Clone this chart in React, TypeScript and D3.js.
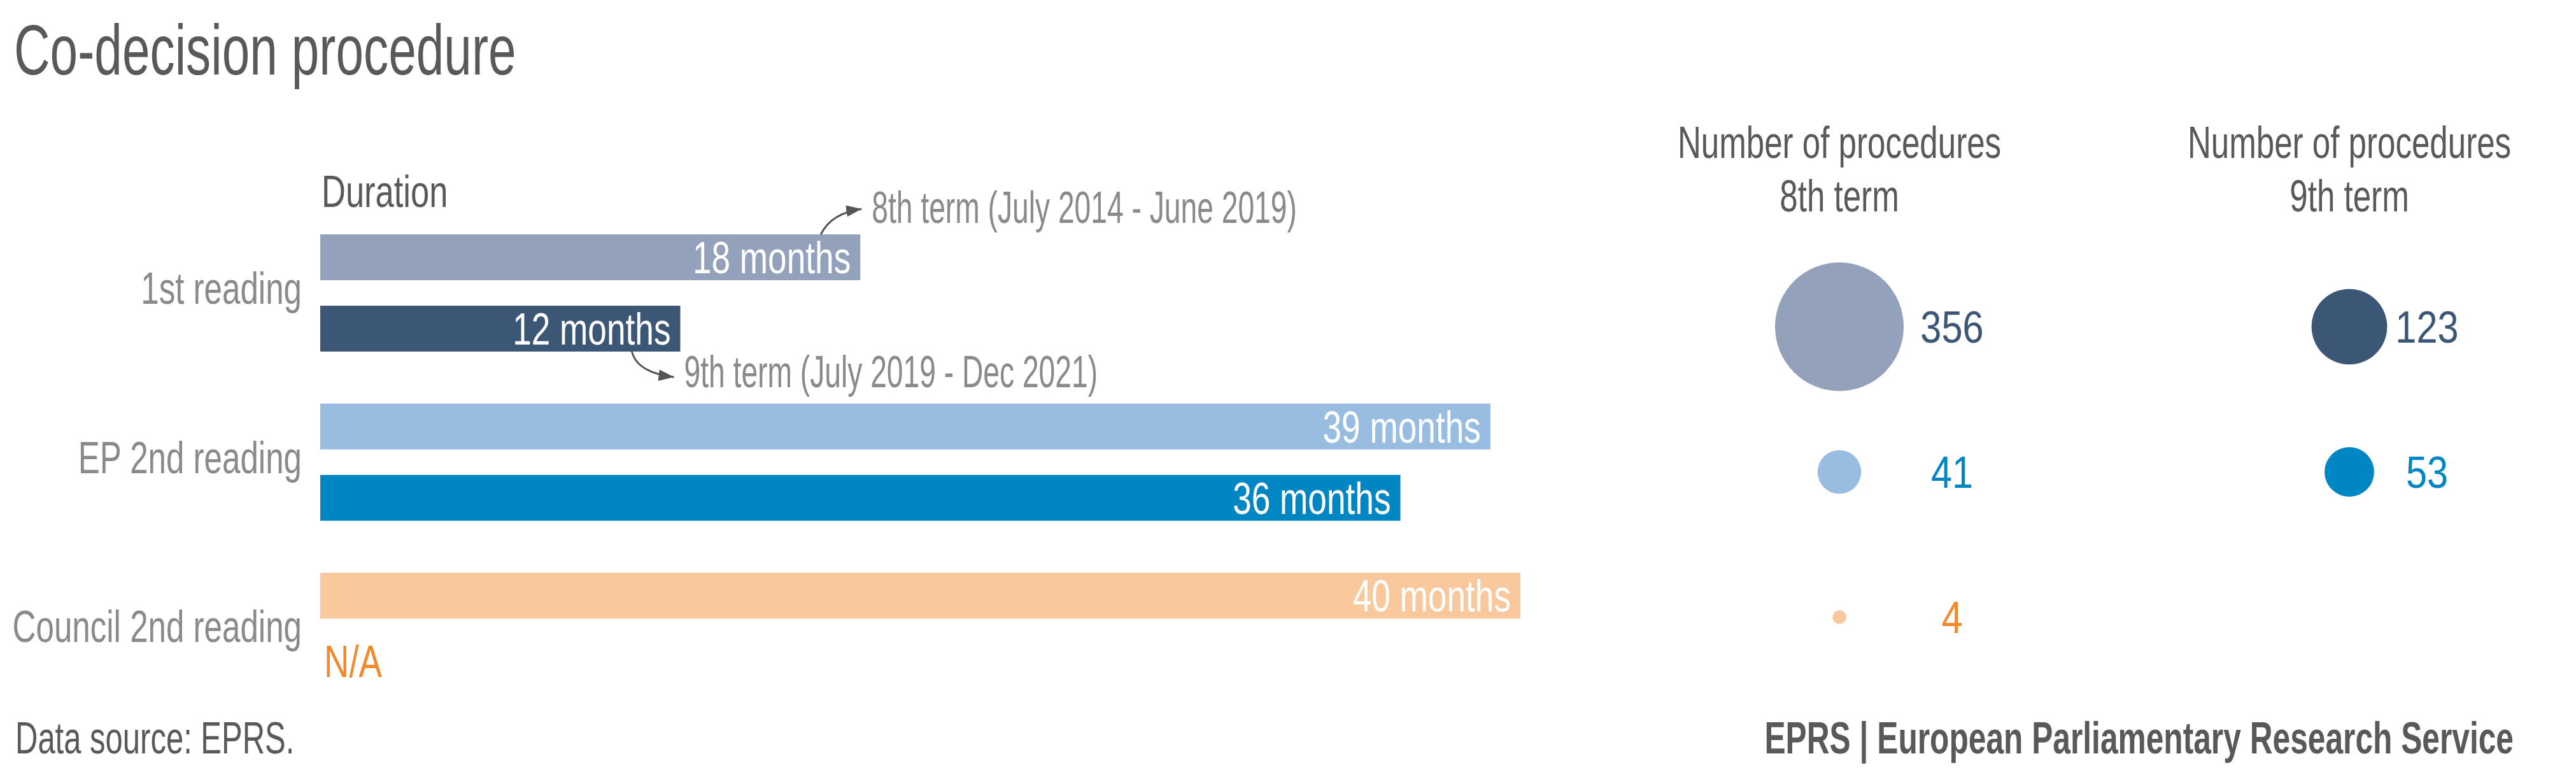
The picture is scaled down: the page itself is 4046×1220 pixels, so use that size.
import * as d3 from "d3";

// durations in months, 8th term vs 9th term
const categories = ["1st reading", "EP 2nd reading", "Council 2nd reading"];
const terms = ["8th term", "9th term"];
const duration8 = [18, 39, 40];
const duration9: (number | null)[] = [12, 36, null];
// number of procedures
const procedures8 = [356, 41, 4];
const procedures9: (number | null)[] = [123, 53, null];
const termNotes = ["8th term (July 2014 - June 2019)", "9th term (July 2019 - Dec 2021)"];

const barColors8 = ["#93A1BA", "#98BDE1", "#F9C89D"];
const barColors9 = ["#3C5675", "#0086C2", "#F9C89D"];
const numberColors = ["#3C5675", "#0086C2", "#F18A2C"];

const W = 4046;
const H = 1220;
// no condensed font available, so Liberation Sans is squeezed horizontally
const FONT = "'Liberation Sans Narrow', 'Liberation Sans', Arial, sans-serif";
const GREY = "#595959";
const LABEL_GREY = "#8a8a8a";

function T({
  x,
  y,
  anchor = "start",
  size = 70,
  sx = 0.73,
  fill = GREY,
  weight = 400,
  children,
}: {
  x: number;
  y: number;
  anchor?: string;
  size?: number;
  sx?: number;
  fill?: string;
  weight?: number;
  children: React.ReactNode;
}) {
  return (
    <text
      transform={`translate(${x},${y}) scale(${sx},1)`}
      textAnchor={anchor}
      fontSize={size}
      fontWeight={weight}
      fill={fill}
      fontFamily={FONT}
    >
      {children}
    </text>
  );
}

export default function App() {
  const x = d3.scaleLinear().domain([0, 40]).range([503, 2388]);
  const group = d3.scaleBand<string>().domain(categories).range([368, 1165]);
  const inner = d3.scaleBand<string>().domain(terms).range([0, 184]).paddingInner(0.357);
  const row = d3.scaleBand<string>().domain(categories).range([399, 1083]);
  const r = d3.scaleSqrt().domain([0, 356]).range([0, 101]);
  const circleX = d3.scaleOrdinal<string, number>().domain(terms).range([2889, 3690]);
  const numberX = d3.scaleOrdinal<string, number>().domain(terms).range([3066, 3812]);

  const bh = inner.bandwidth();
  const top8 = (c: string) => group(c)! + inner(terms[0])!;
  const top9 = (c: string) => group(c)! + inner(terms[1])!;

  // annotation arrows anchored on the 1st reading bars
  const a1x = x(duration8[0]);
  const a1y = top8(categories[0]);
  const a2x = x(duration9[0] as number);
  const a2y = top9(categories[0]) + bh;

  return (
    <svg
      width={W}
      height={H}
      style={{ position: "absolute", left: 0, top: 0, background: "#fff" }}
    >
      <defs>
        <marker
          id="arr"
          markerUnits="userSpaceOnUse"
          markerWidth={26}
          markerHeight={18}
          refX={24}
          refY={9}
          orient="auto"
        >
          <path d="M0,0 L24,9 L0,18 Z" fill="#555" />
        </marker>
      </defs>

      <T x={22} y={117} size={112} sx={0.7}>
        Co-decision procedure
      </T>

      <T x={505} y={325} sx={0.75}>
        Duration
      </T>

      {categories.map((c, i) => (
        <g key={c}>
          <T x={474} y={group(c)! + 84 + 25} anchor="end" fill={LABEL_GREY}>
            {c}
          </T>
          <rect x={x(0)} y={top8(c)} width={x(duration8[i]) - x(0)} height={bh} fill={barColors8[i]} />
          <T x={x(duration8[i]) - 15} y={top8(c) + bh / 2 + 25} anchor="end" fill="#fff" sx={0.76}>
            {`${duration8[i]} months`}
          </T>
          {duration9[i] != null ? (
            <>
              <rect
                x={x(0)}
                y={top9(c)}
                width={x(duration9[i] as number) - x(0)}
                height={bh}
                fill={barColors9[i]}
              />
              <T
                x={x(duration9[i] as number) - 15}
                y={top9(c) + bh / 2 + 25}
                anchor="end"
                fill="#fff"
                sx={0.76}
              >
                {`${duration9[i]} months`}
              </T>
            </>
          ) : (
            <T x={x(0) + 6} y={top9(c) + bh / 2 + 16} fill={numberColors[i]} sx={0.78}>
              N/A
            </T>
          )}
        </g>
      ))}

      <path
        d={`M${a1x - 62},${a1y} Q${a1x - 46},${a1y - 33} ${a1x + 2},${a1y - 40}`}
        fill="none"
        stroke="#555"
        strokeWidth={3}
        markerEnd="url(#arr)"
      />
      <T x={a1x + 18} y={a1y - 18} fill={LABEL_GREY} sx={0.66}>
        {termNotes[0]}
      </T>
      <path
        d={`M${a2x - 76},${a2y} Q${a2x - 68},${a2y + 33} ${a2x - 10},${a2y + 40}`}
        fill="none"
        stroke="#555"
        strokeWidth={3}
        markerEnd="url(#arr)"
      />
      <T x={a2x + 6} y={a2y + 56} fill={LABEL_GREY} sx={0.66}>
        {termNotes[1]}
      </T>

      {terms.map((t) => (
        <g key={t}>
          <T x={circleX(t)} y={248} anchor="middle">
            Number of procedures
          </T>
          <T x={circleX(t)} y={332} anchor="middle">
            {t}
          </T>
        </g>
      ))}

      {categories.map((c, i) => {
        const cy = row(c)! + row.bandwidth() / 2;
        const v9 = procedures9[i];
        return (
          <g key={c}>
            <circle cx={circleX(terms[0])} cy={cy} r={r(procedures8[i])} fill={barColors8[i]} />
            <T x={numberX(terms[0])} y={cy + 25} anchor="middle" fill={numberColors[i]} sx={0.85}>
              {procedures8[i]}
            </T>
            {v9 != null && (
              <>
                <circle cx={circleX(terms[1])} cy={cy} r={r(v9)} fill={barColors9[i]} />
                <T x={numberX(terms[1])} y={cy + 25} anchor="middle" fill={numberColors[i]} sx={0.85}>
                  {v9}
                </T>
              </>
            )}
          </g>
        );
      })}

      <T x={24} y={1183} sx={0.7}>
        Data source: EPRS.
      </T>
      <T x={3948} y={1183} anchor="end" weight={700} sx={0.71}>
        EPRS | European Parliamentary Research Service
      </T>
    </svg>
  );
}
